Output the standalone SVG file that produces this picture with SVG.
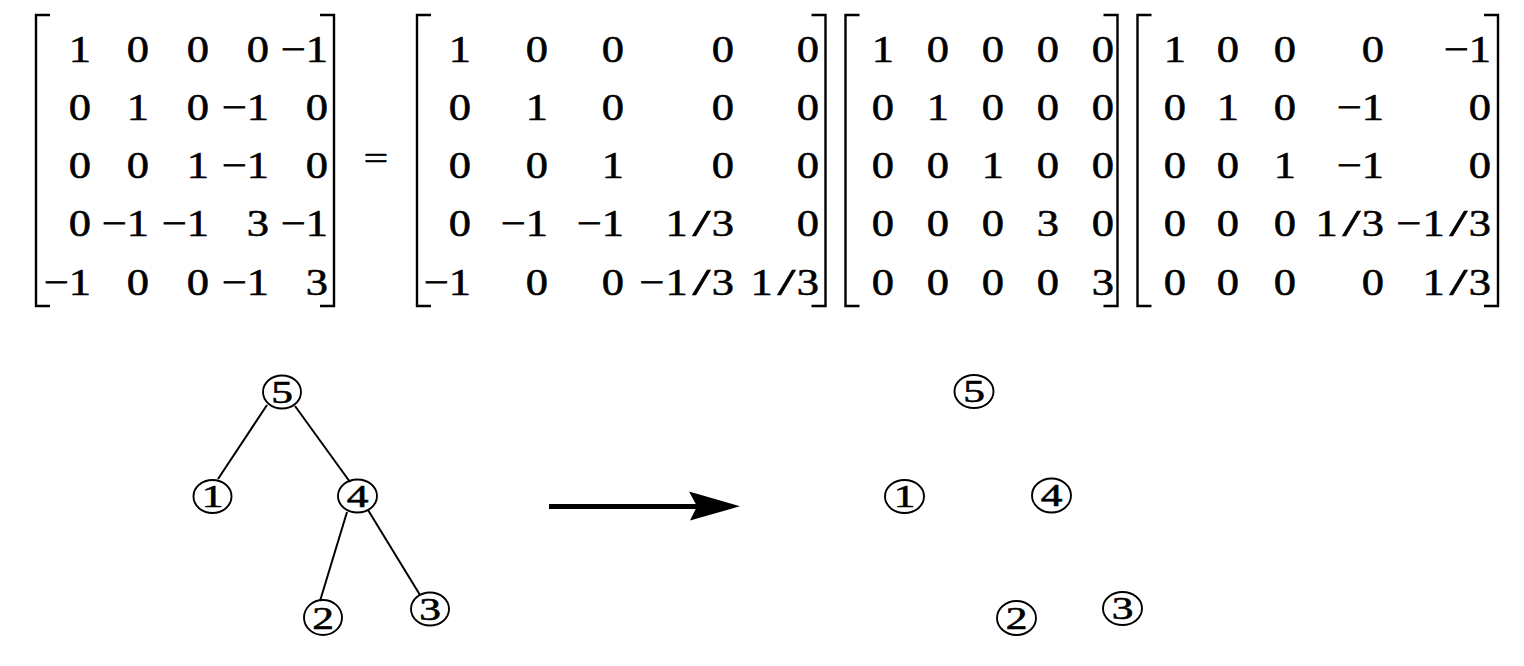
<svg xmlns="http://www.w3.org/2000/svg" width="1524" height="666" viewBox="0 0 1524 666">
<style>
text{font-family:"Liberation Serif","Times New Roman",serif;fill:#000;stroke:#000;stroke-width:0.6}
.m{font-size:38px;text-anchor:end}
.s{font-size:38px;text-anchor:middle}
.br{fill:none;stroke:#000;stroke-width:2.4}
.nd{fill:none;stroke:#000;stroke-width:1.9}
.lb{font-size:31px;text-anchor:middle}
.ed{stroke:#000;stroke-width:2}
</style>
<rect width="1524" height="666" fill="#fff"/>
<g id="matrix-A">
<path class="br" d="M50,15H36V306H50"/><path class="br" d="M320,15H334V306H320"/>
<text class="m" transform="translate(91 61.5)scale(1.17 1)">1</text><text class="m" transform="translate(149 61.5)scale(1.17 1)">0</text><text class="m" transform="translate(209 61.5)scale(1.17 1)">0</text><text class="m" transform="translate(269 61.5)scale(1.17 1)">0</text><text class="m" transform="translate(328 61.5)scale(1.17 1)">−1</text>
<text class="m" transform="translate(91 119.8)scale(1.17 1)">0</text><text class="m" transform="translate(149 119.8)scale(1.17 1)">1</text><text class="m" transform="translate(209 119.8)scale(1.17 1)">0</text><text class="m" transform="translate(269 119.8)scale(1.17 1)">−1</text><text class="m" transform="translate(328 119.8)scale(1.17 1)">0</text>
<text class="m" transform="translate(91 178.1)scale(1.17 1)">0</text><text class="m" transform="translate(149 178.1)scale(1.17 1)">0</text><text class="m" transform="translate(209 178.1)scale(1.17 1)">1</text><text class="m" transform="translate(269 178.1)scale(1.17 1)">−1</text><text class="m" transform="translate(328 178.1)scale(1.17 1)">0</text>
<text class="m" transform="translate(91 236.4)scale(1.17 1)">0</text><text class="m" transform="translate(149 236.4)scale(1.17 1)">−1</text><text class="m" transform="translate(209 236.4)scale(1.17 1)">−1</text><text class="m" transform="translate(269 236.4)scale(1.17 1)">3</text><text class="m" transform="translate(328 236.4)scale(1.17 1)">−1</text>
<text class="m" transform="translate(91 294.7)scale(1.17 1)">−1</text><text class="m" transform="translate(149 294.7)scale(1.17 1)">0</text><text class="m" transform="translate(209 294.7)scale(1.17 1)">0</text><text class="m" transform="translate(269 294.7)scale(1.17 1)">−1</text><text class="m" transform="translate(328 294.7)scale(1.17 1)">3</text>
</g>
<g id="equals"><text class="s" transform="translate(376 168.5)scale(1.35 1)" style="font-size:32px">=</text></g>
<g id="matrix-L">
<path class="br" d="M431,15H417V306H431"/><path class="br" d="M811.5,15H825.5V306H811.5"/>
<text class="m" transform="translate(471 61.5)scale(1.17 1)">1</text><text class="m" transform="translate(548 61.5)scale(1.17 1)">0</text><text class="m" transform="translate(624 61.5)scale(1.17 1)">0</text><text class="m" transform="translate(734 61.5)scale(1.17 1)">0</text><text class="m" transform="translate(819 61.5)scale(1.17 1)">0</text>
<text class="m" transform="translate(471 119.8)scale(1.17 1)">0</text><text class="m" transform="translate(548 119.8)scale(1.17 1)">1</text><text class="m" transform="translate(624 119.8)scale(1.17 1)">0</text><text class="m" transform="translate(734 119.8)scale(1.17 1)">0</text><text class="m" transform="translate(819 119.8)scale(1.17 1)">0</text>
<text class="m" transform="translate(471 178.1)scale(1.17 1)">0</text><text class="m" transform="translate(548 178.1)scale(1.17 1)">0</text><text class="m" transform="translate(624 178.1)scale(1.17 1)">1</text><text class="m" transform="translate(734 178.1)scale(1.17 1)">0</text><text class="m" transform="translate(819 178.1)scale(1.17 1)">0</text>
<text class="m" transform="translate(471 236.4)scale(1.17 1)">0</text><text class="m" transform="translate(548 236.4)scale(1.17 1)">−1</text><text class="m" transform="translate(624 236.4)scale(1.17 1)">−1</text>
<text class="m" transform="translate(687.7 236.4)scale(1.17 1)">1</text><text class="s" transform="translate(701.5 236.4)scale(1.7 1)">/</text><text class="m" transform="translate(734 236.4)scale(1.17 1)">3</text>
<text class="m" transform="translate(819 236.4)scale(1.17 1)">0</text>
<text class="m" transform="translate(471 294.7)scale(1.17 1)">−1</text><text class="m" transform="translate(548 294.7)scale(1.17 1)">0</text><text class="m" transform="translate(624 294.7)scale(1.17 1)">0</text>
<text class="m" transform="translate(687.7 294.7)scale(1.17 1)">−<tspan dx="1">1</tspan></text><text class="s" transform="translate(701.5 294.7)scale(1.7 1)">/</text><text class="m" transform="translate(734 294.7)scale(1.17 1)">3</text>
<text class="m" transform="translate(772.7 294.7)scale(1.17 1)">1</text><text class="s" transform="translate(786.5 294.7)scale(1.7 1)">/</text><text class="m" transform="translate(819 294.7)scale(1.17 1)">3</text>
</g>
<g id="matrix-D">
<path class="br" d="M859.5,15H845.5V306H859.5"/><path class="br" d="M1103.5,15H1117.5V306H1103.5"/>
<text class="m" transform="translate(894 61.5)scale(1.17 1)">1</text><text class="m" transform="translate(949 61.5)scale(1.17 1)">0</text><text class="m" transform="translate(1004 61.5)scale(1.17 1)">0</text><text class="m" transform="translate(1059 61.5)scale(1.17 1)">0</text><text class="m" transform="translate(1114 61.5)scale(1.17 1)">0</text>
<text class="m" transform="translate(894 119.8)scale(1.17 1)">0</text><text class="m" transform="translate(949 119.8)scale(1.17 1)">1</text><text class="m" transform="translate(1004 119.8)scale(1.17 1)">0</text><text class="m" transform="translate(1059 119.8)scale(1.17 1)">0</text><text class="m" transform="translate(1114 119.8)scale(1.17 1)">0</text>
<text class="m" transform="translate(894 178.1)scale(1.17 1)">0</text><text class="m" transform="translate(949 178.1)scale(1.17 1)">0</text><text class="m" transform="translate(1004 178.1)scale(1.17 1)">1</text><text class="m" transform="translate(1059 178.1)scale(1.17 1)">0</text><text class="m" transform="translate(1114 178.1)scale(1.17 1)">0</text>
<text class="m" transform="translate(894 236.4)scale(1.17 1)">0</text><text class="m" transform="translate(949 236.4)scale(1.17 1)">0</text><text class="m" transform="translate(1004 236.4)scale(1.17 1)">0</text><text class="m" transform="translate(1059 236.4)scale(1.17 1)">3</text><text class="m" transform="translate(1114 236.4)scale(1.17 1)">0</text>
<text class="m" transform="translate(894 294.7)scale(1.17 1)">0</text><text class="m" transform="translate(949 294.7)scale(1.17 1)">0</text><text class="m" transform="translate(1004 294.7)scale(1.17 1)">0</text><text class="m" transform="translate(1059 294.7)scale(1.17 1)">0</text><text class="m" transform="translate(1114 294.7)scale(1.17 1)">3</text>
</g>
<g id="matrix-U">
<path class="br" d="M1151.5,15H1137.5V306H1151.5"/><path class="br" d="M1484,15H1498V306H1484"/>
<text class="m" transform="translate(1186 61.5)scale(1.17 1)">1</text><text class="m" transform="translate(1239 61.5)scale(1.17 1)">0</text><text class="m" transform="translate(1296 61.5)scale(1.17 1)">0</text><text class="m" transform="translate(1384 61.5)scale(1.17 1)">0</text><text class="m" transform="translate(1491 61.5)scale(1.17 1)">−1</text>
<text class="m" transform="translate(1186 119.8)scale(1.17 1)">0</text><text class="m" transform="translate(1239 119.8)scale(1.17 1)">1</text><text class="m" transform="translate(1296 119.8)scale(1.17 1)">0</text><text class="m" transform="translate(1384 119.8)scale(1.17 1)">−1</text><text class="m" transform="translate(1491 119.8)scale(1.17 1)">0</text>
<text class="m" transform="translate(1186 178.1)scale(1.17 1)">0</text><text class="m" transform="translate(1239 178.1)scale(1.17 1)">0</text><text class="m" transform="translate(1296 178.1)scale(1.17 1)">1</text><text class="m" transform="translate(1384 178.1)scale(1.17 1)">−1</text><text class="m" transform="translate(1491 178.1)scale(1.17 1)">0</text>
<text class="m" transform="translate(1186 236.4)scale(1.17 1)">0</text><text class="m" transform="translate(1239 236.4)scale(1.17 1)">0</text><text class="m" transform="translate(1296 236.4)scale(1.17 1)">0</text>
<text class="m" transform="translate(1337.7 236.4)scale(1.17 1)">1</text><text class="s" transform="translate(1351.5 236.4)scale(1.7 1)">/</text><text class="m" transform="translate(1384 236.4)scale(1.17 1)">3</text>
<text class="m" transform="translate(1444.7 236.4)scale(1.17 1)">−<tspan dx="1">1</tspan></text><text class="s" transform="translate(1458.5 236.4)scale(1.7 1)">/</text><text class="m" transform="translate(1491 236.4)scale(1.17 1)">3</text>
<text class="m" transform="translate(1186 294.7)scale(1.17 1)">0</text><text class="m" transform="translate(1239 294.7)scale(1.17 1)">0</text><text class="m" transform="translate(1296 294.7)scale(1.17 1)">0</text><text class="m" transform="translate(1384 294.7)scale(1.17 1)">0</text>
<text class="m" transform="translate(1444.7 294.7)scale(1.17 1)">1</text><text class="s" transform="translate(1458.5 294.7)scale(1.7 1)">/</text><text class="m" transform="translate(1491 294.7)scale(1.17 1)">3</text>
</g>
<g id="connectors">
<line class="ed" x1="267" y1="405" x2="218" y2="479"/>
<line class="ed" x1="295" y1="406" x2="350" y2="482"/>
<line class="ed" x1="347" y1="512" x2="320" y2="601"/>
<line class="ed" x1="368" y1="510" x2="420" y2="595"/>
<line x1="549" y1="506.5" x2="697" y2="506.5" stroke="#000" stroke-width="5"/>
<polygon points="689,491.5 740,506.3 690,520.5 697,506.3" fill="#000"/>
</g>
<g id="tree-n5"><ellipse class="nd" cx="282" cy="392" rx="19" ry="16.5"/><text class="lb" transform="translate(282 402.5)scale(1.4 1)">5</text></g>
<g id="tree-n1"><ellipse class="nd" cx="212.5" cy="496.5" rx="19" ry="16.5"/><text class="lb" transform="translate(212.5 507)scale(1.4 1)">1</text></g>
<g id="tree-n4"><ellipse class="nd" cx="357.5" cy="496" rx="19.5" ry="16.5"/><text class="lb" transform="translate(357.5 506.5)scale(1.4 1)">4</text></g>
<g id="tree-n2"><ellipse class="nd" cx="323" cy="617.5" rx="19" ry="17.5"/><text class="lb" transform="translate(323 628.5)scale(1.4 1)">2</text></g>
<g id="tree-n3"><ellipse class="nd" cx="430" cy="609" rx="19" ry="16.5"/><text class="lb" transform="translate(430 619.5)scale(1.4 1)">3</text></g>
<g id="res-n5"><ellipse class="nd" cx="974" cy="391.5" rx="19.5" ry="16.5"/><text class="lb" transform="translate(974 402)scale(1.4 1)">5</text></g>
<g id="res-n1"><ellipse class="nd" cx="904.5" cy="496.5" rx="19.5" ry="16.5"/><text class="lb" transform="translate(904.5 507)scale(1.4 1)">1</text></g>
<g id="res-n4"><ellipse class="nd" cx="1051.5" cy="495.5" rx="19.5" ry="17"/><text class="lb" transform="translate(1051.5 506)scale(1.4 1)">4</text></g>
<g id="res-n2"><ellipse class="nd" cx="1016.5" cy="618" rx="19.5" ry="17"/><text class="lb" transform="translate(1016.5 629)scale(1.4 1)">2</text></g>
<g id="res-n3"><ellipse class="nd" cx="1122.5" cy="608.5" rx="19.5" ry="16.5"/><text class="lb" transform="translate(1122.5 619)scale(1.4 1)">3</text></g>
</svg>
